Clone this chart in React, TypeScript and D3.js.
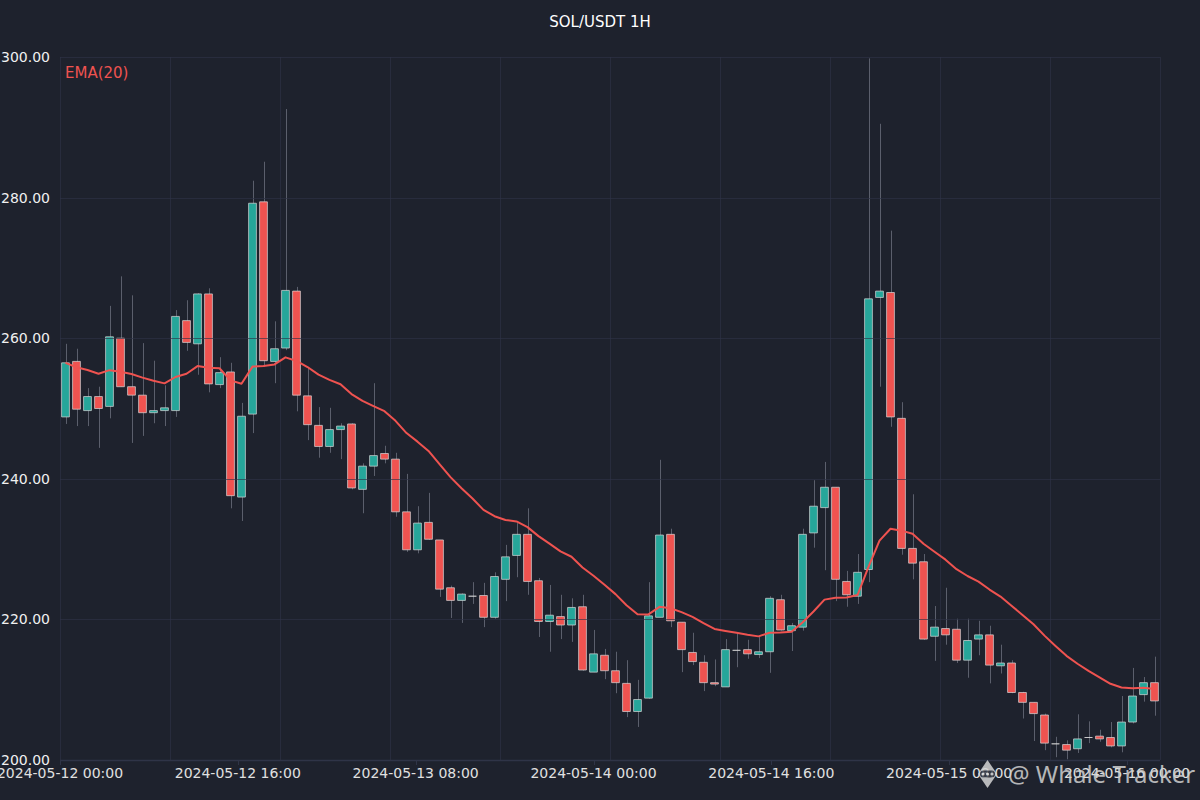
import React from 'react';
import * as d3 from 'd3';

const titleText = 'SOL/USDT 1H';
const legendText = 'EMA(20)';
const emaPeriod = 20;

const candleOpen = [
  248.8, 256.7, 249.7, 251.7, 250.3, 260.0, 253.1, 251.9, 249.4, 249.7,
  249.7, 262.5, 259.2, 266.3, 253.4, 255.2, 237.4, 249.2, 279.4, 256.7,
  258.6, 266.7, 251.8, 247.6, 244.6, 247.0, 247.8, 238.5, 241.8, 243.6,
  242.8, 235.3, 229.9, 233.8, 231.3, 224.5, 222.7, 223.3, 223.4, 220.3,
  225.7, 229.1, 232.1, 225.5, 219.7, 220.4, 219.2, 221.8, 212.5, 214.9,
  212.7, 210.9, 206.9, 208.8, 220.3, 232.1, 219.6, 215.3, 213.9, 211.0,
  210.4, 215.6, 215.7, 215.0, 215.4, 222.8, 218.4, 218.9, 232.3, 235.9,
  238.8, 225.4, 223.3, 227.1, 265.8, 266.5, 248.6, 230.1, 228.2, 217.6,
  218.7, 218.6, 214.2, 217.2, 217.8, 213.4, 213.8, 209.6, 208.2, 206.4,
  202.3, 202.2, 201.6, 203.2, 203.4, 203.2, 202.0, 205.4, 209.3, 211.0,
];

const candleHigh = [
  259.2, 258.5, 252.9, 253.1, 264.6, 268.8, 266.1, 259.3, 256.8, 253.3,
  264.0, 265.4, 266.4, 267.1, 257.3, 256.5, 250.8, 282.4, 285.1, 262.4,
  292.6, 267.3, 255.9, 250.2, 250.1, 247.9, 247.9, 242.2, 253.6, 244.7,
  243.7, 240.7, 236.1, 238.0, 231.3, 224.8, 223.7, 225.3, 225.2, 226.7,
  230.6, 233.7, 235.8, 225.9, 224.9, 223.5, 223.0, 223.5, 218.5, 215.8,
  215.4, 214.2, 211.4, 225.3, 242.7, 232.9, 219.6, 218.1, 214.9, 214.3,
  217.2, 218.2, 217.1, 217.5, 223.3, 223.5, 219.5, 232.9, 239.8, 242.4,
  238.8, 226.9, 229.3, 299.8, 290.5, 275.3, 250.9, 237.8, 229.3, 221.9,
  224.5, 220.1, 220.1, 219.8, 219.1, 216.4, 214.2, 209.7, 208.2, 206.6,
  203.3, 202.8, 206.5, 205.5, 204.3, 205.4, 209.1, 213.1, 211.8, 214.7,
];

const candleLow = [
  247.8, 247.5, 247.5, 244.4, 248.6, 253.1, 245.1, 246.1, 247.9, 247.5,
  248.8, 258.2, 254.8, 252.3, 252.9, 235.8, 234.0, 246.5, 255.9, 253.6,
  258.3, 249.6, 245.5, 243.0, 243.7, 242.8, 238.5, 235.1, 240.4, 242.2,
  234.6, 229.6, 229.4, 231.3, 223.2, 220.2, 219.5, 222.2, 218.9, 220.1,
  222.6, 226.0, 223.5, 217.5, 215.4, 217.2, 216.8, 212.7, 212.5, 211.5,
  209.5, 206.1, 204.7, 208.7, 220.3, 218.9, 212.5, 213.5, 209.8, 210.5,
  210.4, 213.2, 214.4, 214.5, 212.4, 218.4, 215.5, 218.4, 230.2, 227.0,
  222.6, 221.8, 222.2, 225.3, 253.1, 247.4, 229.2, 225.7, 217.1, 214.1,
  216.4, 213.8, 211.7, 214.9, 210.9, 212.3, 209.5, 205.9, 202.7, 201.4,
  200.4, 200.1, 201.0, 202.4, 202.6, 201.8, 201.1, 205.2, 208.3, 206.3,
];

const candleClose = [
  256.5, 249.9, 251.7, 250.0, 260.2, 253.1, 251.9, 249.4, 249.7, 250.1,
  263.1, 259.4, 266.3, 253.5, 255.1, 237.6, 248.9, 279.2, 256.8, 258.5,
  266.8, 251.9, 247.7, 244.6, 247.0, 247.5, 238.7, 241.8, 243.3, 242.8,
  235.3, 229.9, 233.7, 231.4, 224.3, 222.7, 223.6, 223.3, 220.3, 226.1,
  228.9, 232.1, 225.4, 219.7, 220.6, 219.2, 221.7, 212.8, 215.1, 212.7,
  211.0, 206.9, 208.6, 220.5, 232.0, 219.8, 215.7, 214.0, 211.0, 210.8,
  215.7, 215.6, 215.1, 215.4, 223.0, 218.5, 219.1, 232.1, 236.1, 238.8,
  225.7, 223.5, 226.7, 265.6, 266.7, 248.8, 230.1, 228.0, 217.2, 218.9,
  217.8, 214.2, 217.0, 217.8, 213.5, 213.8, 209.6, 208.2, 206.6, 202.4,
  202.3, 201.4, 203.0, 203.2, 203.0, 202.0, 205.4, 209.1, 211.0, 208.4,
];

const yTickValues = [200, 220, 240, 260, 280, 300];
const xTickLabels = [
  '2024-05-12 00:00',
  '2024-05-12 16:00',
  '2024-05-13 08:00',
  '2024-05-14 00:00',
  '2024-05-14 16:00',
  '2024-05-15 08:00',
  '2024-05-16 00:00',
];

const BG = '#1e222d';
const UP = '#26a69a';
const DOWN = '#ef5350';
const FONT = '"DejaVu Sans", sans-serif';

export default function App() {
  const W = 1200;
  const H = 800;
  const left = 60;
  const right = 1160;
  const top = 57;
  const bottom = 760;
  const n = candleClose.length;
  const idx = d3.range(n);

  const x = d3
    .scaleBand<number>()
    .domain(idx)
    .range([left, right])
    .paddingInner(0.2)
    .paddingOuter(0.1);
  const bw = x.bandwidth();
  const xi = d3.scaleLinear().domain([-0.5, n - 0.5]).range([left, right]);
  const y = d3.scaleLinear().domain([200, 300]).range([bottom, top]);

  const k = 2 / (emaPeriod + 1);
  const ema: number[] = [];
  candleClose.forEach((c, i) => {
    ema.push(i === 0 ? c : c * k + ema[i - 1] * (1 - k));
  });
  const emaPath =
    d3
      .line<number>()
      .x((_, i) => (x(i) as number) + bw / 2)
      .y((v) => y(v))(ema) || '';

  const vGrid = d3.range(0, n + 1, 10).map((i) => xi(i - 0.5));
  const tickStep = (n - 3) / (xTickLabels.length - 1);
  const xTicks = xTickLabels.map((label, j) => ({ label, pos: xi(-0.5 + j * tickStep) }));

  return (
    <svg
      width={W}
      height={H}
      style={{ position: 'absolute', left: 0, top: 0, display: 'block' }}
      fontFamily={FONT}
    >
      <rect x={0} y={0} width={W} height={H} fill={BG} />

      {/* wicks */}
      <g stroke="#5b5f6c" strokeWidth={1}>
        {idx.map((i) => {
          const cx = Math.round((x(i) as number) + bw / 2) + 0.5;
          return (
            <line key={i} x1={cx} x2={cx} y1={y(candleHigh[i])} y2={y(candleLow[i])} />
          );
        })}
      </g>

      {/* bodies */}
      <g stroke="#d8d8d8" strokeOpacity={0.7} strokeWidth={1}>
        {idx.map((i) => {
          const o = candleOpen[i];
          const c = candleClose[i];
          const x0 = (x(i) as number) + 0.5;
          const w = bw - 1;
          const y0 = y(Math.max(o, c));
          const y1 = y(Math.min(o, c));
          const d = `M${x0},${y0}H${x0 + w}V${y1}H${x0}Z`;
          return <path key={i} d={d} fill={c >= o ? UP : DOWN} />;
        })}
      </g>

      {/* grid */}
      <g stroke="#2e3346" strokeOpacity={0.65} strokeWidth={1}>
        {yTickValues.map((v) => (
          <line key={v} x1={left} x2={right} y1={Math.round(y(v)) + 0.5} y2={Math.round(y(v)) + 0.5} />
        ))}
        {vGrid.map((gx, j) => (
          <line key={j} x1={Math.round(gx) + 0.5} x2={Math.round(gx) + 0.5} y1={top} y2={bottom} />
        ))}
      </g>

      {/* x axis */}
      <line x1={left} x2={right} y1={bottom + 0.5} y2={bottom + 0.5} stroke="#2f3447" strokeWidth={1.5} />
      {xTicks.map((t, j) => (
        <line
          key={j}
          x1={Math.round(t.pos) + 0.5}
          x2={Math.round(t.pos) + 0.5}
          y1={bottom}
          y2={bottom + 5}
          stroke="#2f3447"
        />
      ))}

      {/* EMA */}
      <path d={emaPath} fill="none" stroke={DOWN} strokeWidth={2} strokeLinejoin="round" />

      {/* y labels */}
      {yTickValues.map((v) => (
        <text
          key={v}
          x={50}
          y={y(v)}
          textAnchor="end"
          dominantBaseline="central"
          fontSize={14}
          fill="#f0f0f0"
        >
          {v.toFixed(2)}
        </text>
      ))}

      {/* x labels */}
      {xTicks.map((t, j) => (
        <text
          key={j}
          x={t.pos}
          y={772.5}
          textAnchor="middle"
          dominantBaseline="central"
          fontSize={14}
          fill="#e0e0e0"
        >
          {t.label}
        </text>
      ))}

      {/* title */}
      <text x={600} y={22} textAnchor="middle" dominantBaseline="central" fontSize={15} fill="#ffffff">
        {titleText}
      </text>

      {/* legend */}
      <text x={65} y={72.5} dominantBaseline="central" fontSize={15} fill={DOWN}>
        {legendText}
      </text>

      {/* watermark */}
      <g opacity={0.85}>
        <g transform="translate(987.5,774)">
          <path d="M0,-14L9.5,0L0,14L-9.5,0Z" fill="#d4d4d4" />
          <rect x={-7.5} y={-3.5} width={15} height={7} rx={3.5} fill="#3a3e4a" />
          <circle cx={-4.5} cy={0} r={1.6} fill="#e0e0e0" />
          <circle cx={0} cy={0} r={1.6} fill="#e0e0e0" />
          <circle cx={4.5} cy={0} r={1.6} fill="#e0e0e0" />
        </g>
        <text x={1008} y={783} fontSize={24} fontFamily='"Noto Sans", sans-serif' fill="#d0d0d0">
          @ Whale Tracker
        </text>
      </g>
    </svg>
  );
}
